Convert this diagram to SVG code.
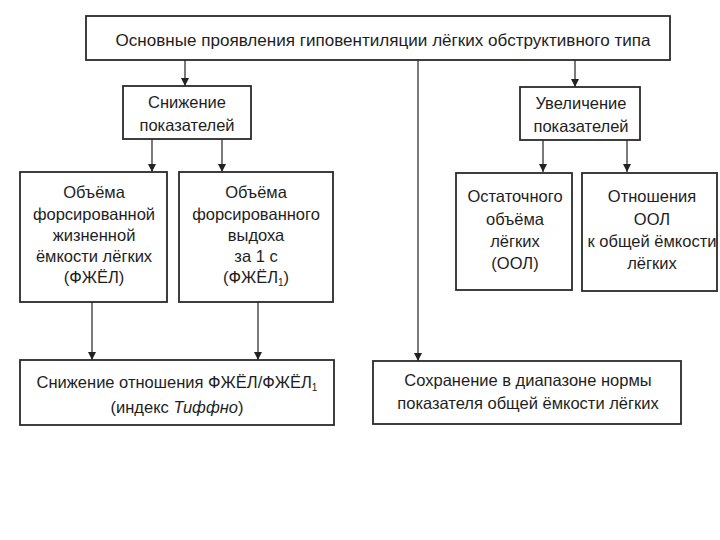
<svg xmlns="http://www.w3.org/2000/svg" width="720" height="540" viewBox="0 0 720 540">
<defs>
<marker id="ah" viewBox="0 0 10 10" refX="10" refY="5" markerWidth="8" markerHeight="9" markerUnits="userSpaceOnUse" orient="auto">
<path d="M0,0 L10,5 L0,10 Z" fill="#222"/>
</marker>
<style>
.box{fill:#fff;stroke:#2a2a2a;stroke-width:1.8}
.t{font-family:"Liberation Sans",Arial,sans-serif;font-size:16.5px;fill:#1e1e1e;text-anchor:middle}
.c{stroke:#333;stroke-width:1.3;fill:none}
</style>
</defs>
<rect width="720" height="540" fill="#fff"/>
<g id="connectors">
<line class="c" x1="185" y1="60" x2="185" y2="86" marker-end="url(#ah)"/>
<line class="c" x1="418" y1="60" x2="418" y2="361" marker-end="url(#ah)"/>
<line class="c" x1="575" y1="60" x2="575" y2="87" marker-end="url(#ah)"/>
<line class="c" x1="152" y1="139" x2="152" y2="172" marker-end="url(#ah)"/>
<line class="c" x1="222" y1="139" x2="222" y2="172" marker-end="url(#ah)"/>
<line class="c" x1="543" y1="140" x2="543" y2="172" marker-end="url(#ah)"/>
<line class="c" x1="627" y1="140" x2="627" y2="172" marker-end="url(#ah)"/>
<line class="c" x1="92" y1="302" x2="92" y2="360" marker-end="url(#ah)"/>
<line class="c" x1="258" y1="302" x2="258" y2="360" marker-end="url(#ah)"/>
</g>
<g id="top">
<rect class="box" x="86" y="16" width="584" height="44"/>
<text class="t" x="383" y="46" textLength="535" lengthAdjust="spacingAndGlyphs">Основные проявления гиповентиляции лёгких обструктивного типа</text>
</g>
<g id="decrease">
<rect class="box" x="123" y="86" width="128" height="53"/>
<text class="t" x="187" y="108">Снижение</text>
<text class="t" x="187" y="131">показателей</text>
</g>
<g id="increase">
<rect class="box" x="520" y="87" width="120" height="53"/>
<text class="t" x="581" y="109">Увеличение</text>
<text class="t" x="581" y="132">показателей</text>
</g>
<g id="fvc">
<rect class="box" x="20" y="172" width="147" height="130"/>
<text class="t" x="94" y="198">Объёма</text>
<text class="t" x="94" y="220">форсированной</text>
<text class="t" x="94" y="241">жизненной</text>
<text class="t" x="94" y="262">ёмкости лёгких</text>
<text class="t" x="94" y="283">(ФЖЁЛ)</text>
</g>
<g id="fev1">
<rect class="box" x="179" y="172" width="154" height="130"/>
<text class="t" x="256" y="198">Объёма</text>
<text class="t" x="256" y="220">форсированного</text>
<text class="t" x="256" y="241">выдоха</text>
<text class="t" x="256" y="262">за 1 с</text>
<text class="t" x="256" y="283">(ФЖЁЛ<tspan font-size="10" dy="3">1</tspan><tspan dy="-3">)</tspan></text>
</g>
<g id="rv">
<rect class="box" x="456" y="173" width="116" height="117"/>
<text class="t" x="515" y="202">Остаточного</text>
<text class="t" x="515" y="225">объёма</text>
<text class="t" x="515" y="247">лёгких</text>
<text class="t" x="515" y="269">(ООЛ)</text>
</g>
<g id="rvtlc">
<rect class="box" x="582" y="173" width="135" height="118"/>
<text class="t" x="652" y="202">Отношения</text>
<text class="t" x="652" y="225">ООЛ</text>
<text class="t" x="652" y="247">к общей ёмкости</text>
<text class="t" x="652" y="269">лёгких</text>
</g>
<g id="tiffeneau">
<rect class="box" x="20" y="360" width="314" height="65"/>
<text class="t" x="177" y="388">Снижение отношения ФЖЁЛ/ФЖЁЛ<tspan font-size="10" dy="3">1</tspan></text>
<text class="t" x="177" y="413">(индекс <tspan font-style="italic">Тиффно</tspan>)</text>
</g>
<g id="tlc">
<rect class="box" x="373" y="361" width="308" height="63"/>
<text class="t" x="528" y="386">Сохранение в диапазоне  нормы</text>
<text class="t" x="528" y="409">показателя общей ёмкости лёгких</text>
</g>
</svg>
